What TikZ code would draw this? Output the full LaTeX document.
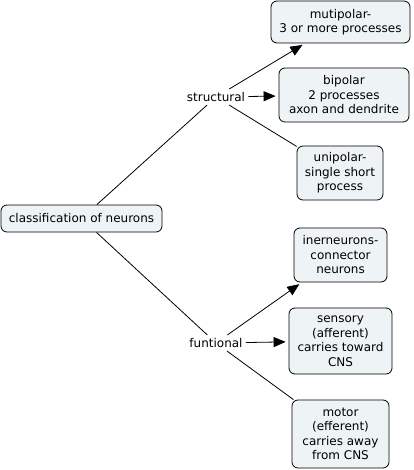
\documentclass[tikz,border=0pt]{standalone}
\usepackage{fontspec}
\setmainfont{DejaVu Sans}
\usetikzlibrary{arrows.meta}
\definecolor{boxfill}{HTML}{EEF3F5}
\tikzset{
  concept/.style={draw, rounded corners=6pt, fill=boxfill, align=center, inner sep=0pt, font=\fontsize{12}{14.5}\selectfont},
  linkword/.style={inner sep=3pt, font=\fontsize{12}{14.5}\selectfont},
  tip/.style={-{Triangle[length=12pt,width=10pt]}, shorten >=3pt}
}
\begin{document}
\begin{tikzpicture}[x=1pt,y=-1pt,line width=0.8pt]
\useasboundingbox (0,0) rectangle (413,470);
%分類
\node[concept, minimum width=161pt, minimum height=27pt] (classification) at (81.5,218.5) {classification of neurons};
\node[linkword] (structural) at (216,97) {structural};
\node[linkword] (funtional) at (216,343) {funtional};
%structural
\node[concept, minimum width=139pt, minimum height=42pt] (multipolar) at (340.5,22) {mutipolar-\\3 or more processes};
\node[concept, minimum width=130pt, minimum height=54pt] (bipolar) at (344,95) {bipolar\\2 processes\\axon and dendrite};
\node[concept, minimum width=86pt, minimum height=54pt] (unipolar) at (340,173) {unipolar-\\single short\\process};
%funtional
\node[concept, minimum width=93pt, minimum height=54pt] (interneurons) at (340.5,255) {inerneurons-\\connector\\neurons};
\node[concept, minimum width=103pt, minimum height=66pt] (sensory) at (340.5,341) {sensory\\(afferent)\\carries toward\\CNS};
\node[concept, minimum width=97pt, minimum height=68pt] (motor) at (340.5,434) {motor\\(efferent)\\carries away\\from CNS};

\draw (classification) -- (structural);
\draw (classification) -- (funtional);
\draw[tip] (structural) -- (multipolar);
\draw[tip] (structural) -- (bipolar);
\draw (structural) -- (unipolar);
\draw[tip] (funtional) -- (interneurons);
\draw[tip] (funtional) -- (sensory);
\draw (funtional) -- (motor);
\end{tikzpicture}
\end{document}
